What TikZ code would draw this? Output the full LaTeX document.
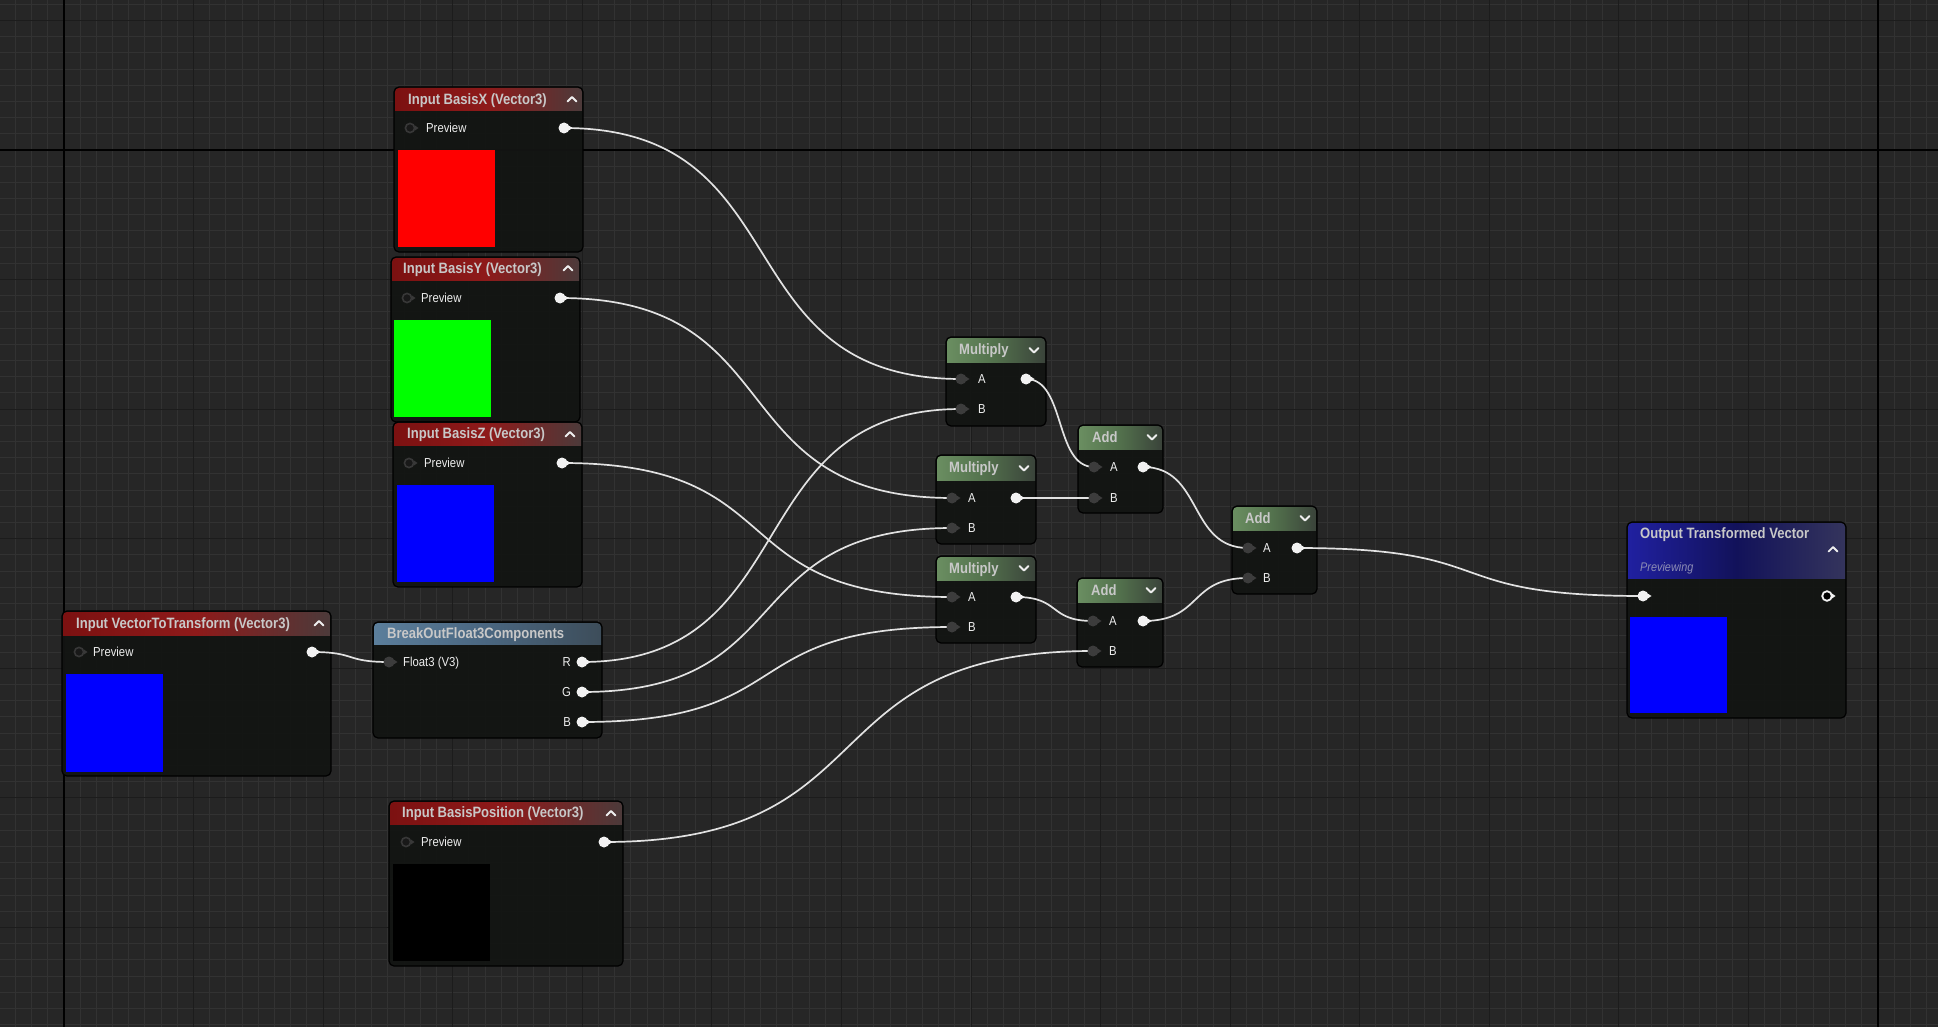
\documentclass[tikz,border=0pt]{standalone}
\usepackage{fontspec}
\setmainfont{Liberation Sans}[FakeStretch=0.87]
\usetikzlibrary{calc}
\definecolor{bgcol}{HTML}{262626}
\definecolor{minorcol}{HTML}{323232}
\definecolor{majorcol}{HTML}{1C1C1C}
\definecolor{bodycol}{HTML}{131513}
\definecolor{titlecol}{HTML}{C8C8C8}
\definecolor{labelcol}{HTML}{EEEEEE}
\definecolor{wirecol}{HTML}{E2E2E2}
\definecolor{pinwhite}{HTML}{F2F2F2}
\definecolor{pindark}{HTML}{3C3C3C}
\definecolor{pinring}{HTML}{383838}
\definecolor{redA}{HTML}{7C1111}
\definecolor{redB}{HTML}{8E1A1A}
\definecolor{redC}{HTML}{4C3A3A}
\definecolor{greenA}{HTML}{6A8E61}
\definecolor{greenB}{HTML}{52704C}
\definecolor{greenC}{HTML}{3A433A}
\definecolor{blueA}{HTML}{5B7E9B}
\definecolor{blueB}{HTML}{4A6680}
\definecolor{blueC}{HTML}{3D4D5A}
\definecolor{outA}{HTML}{2020A0}
\definecolor{outB}{HTML}{12125A}
\definecolor{outC}{HTML}{34345C}
\definecolor{prevtext}{HTML}{8C8CB4}
\tikzset{
 gridminor/.style={draw=minorcol, line width=1pt},
 gridmajor/.style={draw=majorcol, line width=1pt},
 gridorigin/.style={draw=black, line width=1.8pt},
 body/.style={draw=black, line width=1.2pt, fill=bodycol, fill opacity=0.95, rounded corners=5pt, inner sep=0pt, outer sep=0pt},
 redhdr/.style={left color=redA, right color=redC, middle color=redB},
 greenhdr/.style={left color=greenA, right color=greenC, middle color=greenB},
 bluehdr/.style={left color=blueA, right color=blueC, middle color=blueB},
 outhdr/.style={left color=outA, right color=outC, middle color=outB},
 titletext/.style={font=\bfseries\fontsize{15}{18}\selectfont, text=titlecol, inner sep=0pt, anchor=base west},
 pinlabel/.style={font=\fontsize{13}{16}\selectfont, text=labelcol, inner sep=0pt, anchor=base west},
 pinlabelr/.style={pinlabel, anchor=base east},
 chev/.style={draw=labelcol, line width=1.8pt, line cap=round, line join=round},
 wire/.style={draw=wirecol, line width=1.7pt},
}
\newcommand\uenode[9]{%
  \pgfmathsetmacro\uew{#4-#2}\pgfmathsetmacro\ueh{#5-#3}%
  \node[body, minimum width=\uew pt, minimum height=\ueh pt, anchor=north west] (#1) at (#2,#3) {};
  \begin{scope}
    \clip (#2+1,#3+1) rectangle (#4-1,#6);
    \shade[#7, rounded corners=4pt] (#2+1,#3+1) rectangle (#4-1,#6+10);
  \end{scope}
  \node[titletext] (#1-title) at (#9,{(#3+#6)/2+5.3}) {#8};
}
\newcommand\caretup[1]{\draw[chev, shift={(#1)}] (-4.5,2.5) -- (0,-2) -- (4.5,2.5);}
\newcommand\caretdown[1]{\draw[chev, shift={(#1)}] (-4.5,-2) -- (0,2.5) -- (4.5,-2);}
\newcommand\outpin[1]{\fill[pinwhite, shift={(#1)}] (0,0) circle (5.5) (3.5,-3.2) -- (8.5,0) -- (3.5,3.2) -- cycle;}
\newcommand\inpin[1]{\fill[pindark, shift={(#1)}] (0,0) circle (5.5) (3.5,-3.2) -- (8.5,0) -- (3.5,3.2) -- cycle;}
\newcommand\prevpin[1]{\filldraw[fill=black!90, draw=pinring, line width=1.6pt, shift={(#1)}] (0,0) circle (4.6);
  \fill[pinring, shift={(#1)}] (4.5,-2.8) -- (8.5,0) -- (4.5,2.8) -- cycle;}
\newcommand\ringpin[1]{\filldraw[fill=black, draw=pinwhite, line width=1.8pt, shift={(#1)}] (0,0) circle (4.8);
  \fill[pinwhite, shift={(#1)}] (4.5,-2.8) -- (8.5,0) -- (4.5,2.8) -- cycle;}
\newcommand\wire[3]{\draw[wire] (#1) .. controls +(#3,0) and +(-#3,0) .. (#2);}
\begin{document}
\begin{tikzpicture}[x=1pt,y=-1pt]
\useasboundingbox (0,0) rectangle (1938,1027);
% ---------- background grid
\fill[bgcol] (0,0) rectangle (1938,1027);
\begin{scope}
\clip (0,0) rectangle (1938,1027);
\foreach \i in {0,...,119} \draw[gridminor] ({15.41+\i*16.196},0) -- ({15.41+\i*16.196},1027);
\foreach \i in {0,...,63} \draw[gridminor] (0,{4.24+\i*16.196}) -- (1938,{4.24+\i*16.196});
\foreach \i in {0,...,14} \draw[gridmajor] ({64+\i*129.57},0) -- ({64+\i*129.57},1027);
\foreach \i in {-1,...,6} \draw[gridmajor] (0,{150+\i*129.57}) -- (1938,{150+\i*129.57});
\draw[gridorigin] (64,0) -- (64,1027);
\draw[gridorigin] (1878,0) -- (1878,1027);
\draw[gridorigin] (0,150) -- (1938,150);
\end{scope}
% ---------- nodes
\uenode{bx}{394}{87}{583}{252}{111}{redhdr}{Input BasisX (Vector3)}{408}
\fill[red] (398,150) rectangle (495,247);
\caretup{572,99}
\uenode{by}{391}{257}{580}{422}{280}{redhdr}{Input BasisY (Vector3)}{403}
\fill[green] (394,320) rectangle (491,417);
\caretup{568,268}
\uenode{bz}{393}{422}{582}{587}{445}{redhdr}{Input BasisZ (Vector3)}{407}
\fill[blue] (397,485) rectangle (494,582);
\caretup{570,434}
\uenode{vt}{62}{611}{331}{776}{635}{redhdr}{Input VectorToTransform (Vector3)}{76}
\fill[blue] (66,674) rectangle (163,772);
\caretup{319,623}
\uenode{bo}{373}{622}{602}{738}{644}{bluehdr}{BreakOutFloat3Components}{387}
\uenode{bp}{389}{801}{623}{966}{824}{redhdr}{Input BasisPosition (Vector3)}{402}
\fill[black] (393,864) rectangle (490,961);
\caretup{611,813}
\uenode{m1}{946}{337}{1046}{426}{362}{greenhdr}{Multiply}{959}
\caretdown{1034,350}
\uenode{m2}{936}{455}{1036}{544}{480}{greenhdr}{Multiply}{949}
\caretdown{1024,468}
\uenode{m3}{936}{556}{1036}{643}{580}{greenhdr}{Multiply}{949}
\caretdown{1024,568}
\uenode{a1}{1078}{425}{1163}{513}{449}{greenhdr}{Add}{1092}
\caretdown{1152,437}
\uenode{a2}{1077}{578}{1163}{667}{602}{greenhdr}{Add}{1091}
\caretdown{1151,590}
\uenode{a3}{1232}{506}{1317}{594}{530}{greenhdr}{Add}{1245}
\caretdown{1305,518}
% output node
\node[body, minimum width=219pt, minimum height=196pt, anchor=north west] (out) at (1627,522) {};
\begin{scope}
  \clip (1628,523) rectangle (1845,578);
  \shade[outhdr, rounded corners=4pt] (1628,523) rectangle (1845,588);
\end{scope}
\node[titletext] (out-title) at (1640,538.5) {Output Transformed Vector};
\node[pinlabel, text=prevtext, font=\itshape\fontsize{12.5}{15}\selectfont] (out-sub) at (1640,571.5) {Previewing};
\caretup{1833,549}
\fill[blue] (1630,617) rectangle (1727,713);
% ---------- pin coordinates
\coordinate (bx-prev) at (410,128); \coordinate (bx-out) at (564,128);
\coordinate (by-prev) at (407,298); \coordinate (by-out) at (560,298);
\coordinate (bz-prev) at (409,463); \coordinate (bz-out) at (562,463);
\coordinate (vt-prev) at (79,652);  \coordinate (vt-out) at (312,652);
\coordinate (bp-prev) at (406,842); \coordinate (bp-out) at (604,842);
\coordinate (bo-in) at (389,662);
\coordinate (bo-r) at (582,662); \coordinate (bo-g) at (582,692); \coordinate (bo-b) at (582,722);
\coordinate (m1-a) at (961,379); \coordinate (m1-b) at (961,409); \coordinate (m1-out) at (1026,379);
\coordinate (m2-a) at (952,498); \coordinate (m2-b) at (952,528); \coordinate (m2-out) at (1016,498);
\coordinate (m3-a) at (952,597); \coordinate (m3-b) at (952,627); \coordinate (m3-out) at (1016,597);
\coordinate (a1-a) at (1094,467); \coordinate (a1-b) at (1094,498); \coordinate (a1-out) at (1143,467);
\coordinate (a2-a) at (1093,621); \coordinate (a2-b) at (1093,651); \coordinate (a2-out) at (1143,621);
\coordinate (a3-a) at (1248,548); \coordinate (a3-b) at (1248,578); \coordinate (a3-out) at (1297,548);
\coordinate (out-in) at (1643,596); \coordinate (out-out) at (1827,596);
% ---------- wires
\wire{bx-out}{m1-a}{240}
\wire{by-out}{m2-a}{235}
\wire{bz-out}{m3-a}{235}
\wire{vt-out}{bo-in}{45}
\wire{bo-r}{m1-b}{225}
\wire{bo-g}{m2-b}{220}
\wire{bo-b}{m3-b}{220}
\wire{m1-out}{a1-a}{40}
\wire{m2-out}{a1-b}{30}
\wire{m3-out}{a2-a}{45}
\wire{bp-out}{a2-b}{290}
\wire{a1-out}{a3-a}{60}
\wire{a2-out}{a3-b}{60}
\wire{a3-out}{out-in}{210}
% ---------- pins
\prevpin{bx-prev} \outpin{bx-out}
\prevpin{by-prev} \outpin{by-out}
\prevpin{bz-prev} \outpin{bz-out}
\prevpin{vt-prev} \outpin{vt-out}
\prevpin{bp-prev} \outpin{bp-out}
\inpin{bo-in} \outpin{bo-r} \outpin{bo-g} \outpin{bo-b}
\inpin{m1-a} \inpin{m1-b} \outpin{m1-out}
\inpin{m2-a} \inpin{m2-b} \outpin{m2-out}
\inpin{m3-a} \inpin{m3-b} \outpin{m3-out}
\inpin{a1-a} \inpin{a1-b} \outpin{a1-out}
\inpin{a2-a} \inpin{a2-b} \outpin{a2-out}
\inpin{a3-a} \inpin{a3-b} \outpin{a3-out}
\outpin{out-in} \ringpin{out-out}
% ---------- pin labels
\node[pinlabel] (bx-pl) at (426,132.6) {Preview};
\node[pinlabel] (by-pl) at (421,302.6) {Preview};
\node[pinlabel] (bz-pl) at (424,467.6) {Preview};
\node[pinlabel] (vt-pl) at (93,656.6) {Preview};
\node[pinlabel] (bp-pl) at (421,846.6) {Preview};
\node[pinlabel] (bo-pl) at (403,666.6) {Float3 (V3)};
\node[pinlabelr] (bo-rl) at (571,666.6) {R};
\node[pinlabelr] (bo-gl) at (571,696.6) {G};
\node[pinlabelr] (bo-bl) at (571,726.6) {B};
\node[pinlabel] (m1-al) at (978,383.6) {A};
\node[pinlabel] (m1-bl) at (978,413.6) {B};
\node[pinlabel] (m2-al) at (968,502.6) {A};
\node[pinlabel] (m2-bl) at (968,532.6) {B};
\node[pinlabel] (m3-al) at (968,601.6) {A};
\node[pinlabel] (m3-bl) at (968,631.6) {B};
\node[pinlabel] (a1-al) at (1110,471.6) {A};
\node[pinlabel] (a1-bl) at (1110,502.6) {B};
\node[pinlabel] (a2-al) at (1109,625.6) {A};
\node[pinlabel] (a2-bl) at (1109,655.6) {B};
\node[pinlabel] (a3-al) at (1263,552.6) {A};
\node[pinlabel] (a3-bl) at (1263,582.6) {B};
\end{tikzpicture}
\end{document}
